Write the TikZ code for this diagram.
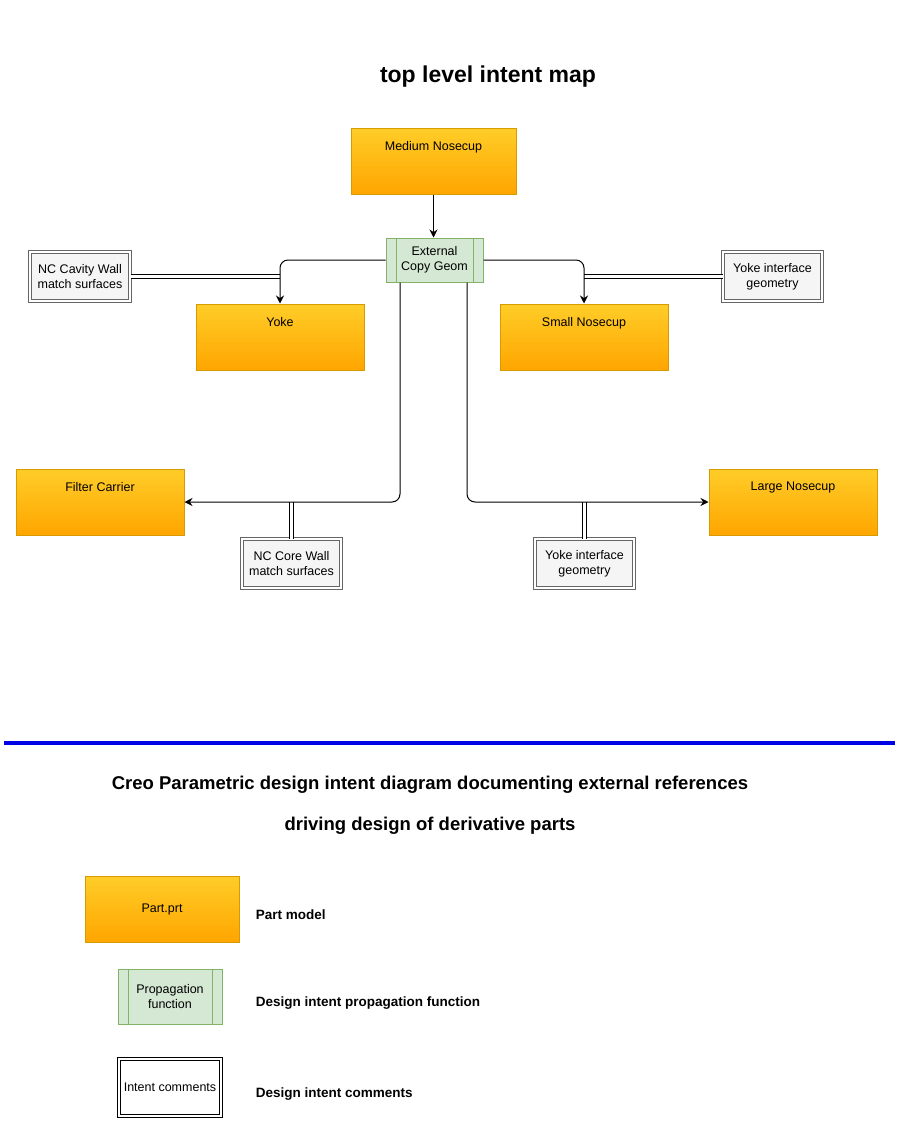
\documentclass[tikz,border=0pt]{standalone}
\usepackage{fontspec}
\setmainfont{Liberation Sans}
\usetikzlibrary{arrows.meta}
\definecolor{otop}{HTML}{FFCD28}\definecolor{obot}{HTML}{FFA500}\definecolor{obd}{HTML}{D79B00}
\definecolor{gfill}{HTML}{D5E8D4}\definecolor{gbd}{HTML}{82B366}
\definecolor{cfill}{HTML}{F5F5F5}\definecolor{cbd}{HTML}{666666}
\begin{document}
\begin{tikzpicture}[x=1pt,y=-1pt,line width=1pt,
 every node/.style={font=\fontsize{12.5}{15}\selectfont, align=center},
 part/.style={draw=obd,top color=otop,bottom color=obot,minimum width=168pt,minimum height=66pt,inner sep=0pt},
 prop/.style={draw=gbd,fill=gfill,minimum width=97pt,minimum height=44pt,inner sep=0pt},
 cmt/.style={draw=cbd,fill=cfill,double=white,double distance=1.5pt,line width=1pt,minimum width=99pt,minimum height=49pt,inner sep=0pt},
 arr/.style={-{Stealth[length=8pt,width=8pt]},rounded corners=8pt},
 dbl/.style={draw=black,double=white,double distance=3pt,line width=1pt}]
\useasboundingbox (0,0) rectangle (899,1122);
\node[font=\bfseries\fontsize{23}{26}\selectfont] (title) at (488,77) {top level intent map};
\node[part,minimum width=165pt] (med) at (433.5,161) {Medium Nosecup\\[16pt]};
\node[prop] (ext) at (434.5,260) {External\\Copy Geom};
\draw[gbd] (396,238) -- (396,282) (473,238) -- (473,282);
\node[cmt,minimum width=100pt] (cav) at (80,276.5) {NC Cavity Wall\\match surfaces};
\node[part] (yoke) at (280,337) {Yoke\\[16pt]};
\node[part] (small) at (584,337) {Small Nosecup\\[16pt]};
\node[cmt] (yit) at (772.5,276.5) {Yoke interface\\geometry};
\node[part] (filt) at (100,502) {Filter Carrier\\[16pt]};
\node[part] (large) at (793,502) {Large Nosecup\\[16pt]};
\node[cmt] (core) at (291.5,563.5) {NC Core Wall\\match surfaces};
\node[cmt] (yib) at (584.5,563.5) {Yoke interface\\geometry};
\coordinate (jl) at (280,276.5);
\coordinate (jr) at (584,276.5);
\coordinate (jbl) at (291.5,502);
\coordinate (jbr) at (584.5,502);
\draw[dbl] (cav.east) -- (jl);
\draw[dbl] (yit.west) -- (jr);
\draw[dbl] (core.north) -- (jbl);
\draw[dbl] (yib.north) -- (jbr);
\draw[arr] (med.south) -- (med.south |- ext.north);
\draw[arr] (ext.west) -| (yoke.north);
\draw[arr] (ext.east) -| (small.north);
\draw[arr] (ext.south -| 400,0) |- (filt.east);
\draw[arr] (ext.south -| 467,0) |- (large.west);
\draw[blue!90!black,line width=4pt] (4,743) -- (895,743);
\node[font=\bfseries\fontsize{18.5}{21}\selectfont] (d1) at (430,785) {Creo Parametric design intent diagram documenting external references};
\node[font=\bfseries\fontsize{18.5}{21}\selectfont] (d2) at (430,826) {driving design of derivative parts};
\node[part,minimum width=154pt] (lp) at (162,909) {Part.prt};
\node[prop,minimum width=104pt,minimum height=55pt] (lg) at (170,996.5) {Propagation\\function};
\draw[gbd] (128,969) -- (128,1024) (212,969) -- (212,1024);
\node[cmt,draw=black,minimum width=102pt,minimum height=57pt,fill=white] (lc) at (170,1087.5) {Intent comments};
\node[font=\bfseries\fontsize{13.5}{16}\selectfont,anchor=west] (t1) at (252,915) {Part model};
\node[font=\bfseries\fontsize{13.5}{16}\selectfont,anchor=west] (t2) at (252,1003) {Design intent propagation function};
\node[font=\bfseries\fontsize{13.5}{16}\selectfont,anchor=west] (t3) at (252,1094) {Design intent comments};
\end{tikzpicture}
\end{document}
